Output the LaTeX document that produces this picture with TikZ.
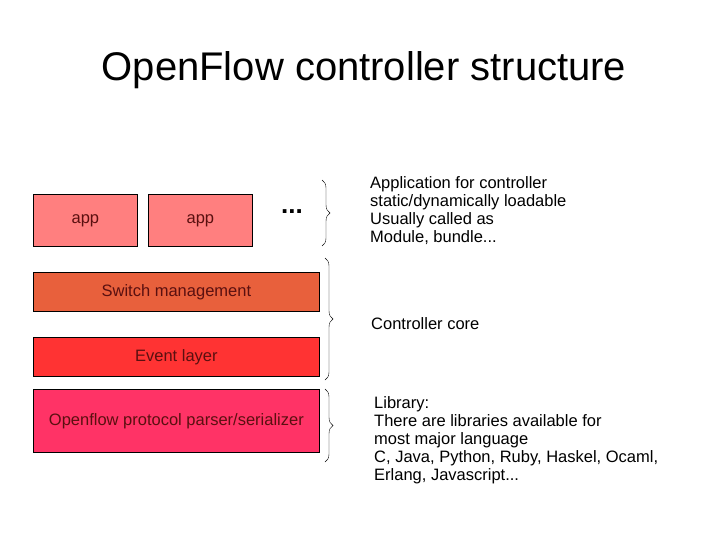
\documentclass[tikz,border=0pt]{standalone}
\usepackage{fontspec}
\setmainfont{Liberation Sans}
\usetikzlibrary{positioning,decorations.pathreplacing}
\definecolor{appred}{HTML}{FF7F7F}
\definecolor{swred}{HTML}{E8603C}
\definecolor{evred}{HTML}{FF3333}
\definecolor{ofred}{HTML}{FF3366}
\definecolor{boxtext}{HTML}{5A1010}
\tikzset{
  layer/.style={draw=black, thick, text=boxtext, font=\fontsize{16.5}{19}\selectfont, anchor=north west, inner sep=0pt},
  note/.style={anchor=north west, align=left, font=\fontsize{16.5}{18}\selectfont, inner sep=0pt},
  curly/.style={draw, decorate, decoration={brace, amplitude=8pt}}
}
\begin{document}
\begin{tikzpicture}[x=1pt,y=-1pt]
\useasboundingbox (0,0) rectangle (728,546);
\node (title) at (364,70) {\fontsize{40}{46}\selectfont OpenFlow controller structure};

\node[layer, fill=appred, minimum width=104pt, minimum height=52pt] (app1) at (33,194) {app};
\node[layer, fill=appred, minimum width=104pt, minimum height=52pt] (app2) at (148,194) {app};
\node[font=\bfseries\fontsize{26}{28}\selectfont] (dots) at (292,212) {...};
\node[layer, fill=swred, minimum width=286pt, minimum height=39pt] (sw) at (33,272) {Switch management};
\node[layer, fill=evred, minimum width=286pt, minimum height=39pt] (ev) at (33,337) {Event layer};
\node[layer, fill=ofred, minimum width=286pt, minimum height=63pt] (of) at (33,389) {Openflow protocol parser/serializer};

\coordinate (b1t) at (322,180);
\coordinate (b1b) at (322,246);
\coordinate (b2t) at (325,258);
\coordinate (b2b) at (325,380);
\coordinate (b3t) at (325,389);
\coordinate (b3b) at (325,462);
\draw[curly] (b1t) -- (b1b);
\draw[curly] (b2t) -- (b2b);
\draw[curly] (b3t) -- (b3b);

\node[note] (n1) at (370,176) {Application for controller\\static/dynamically loadable\\Usually called as\\Module, bundle...};
\node[note] (n2) at (371,317) {Controller core};
\node[note] (n3) at (374,396) {Library:\\There are libraries available for\\most major language\\C, Java, Python, Ruby, Haskel, Ocaml,\\Erlang, Javascript...};
\end{tikzpicture}
\end{document}
